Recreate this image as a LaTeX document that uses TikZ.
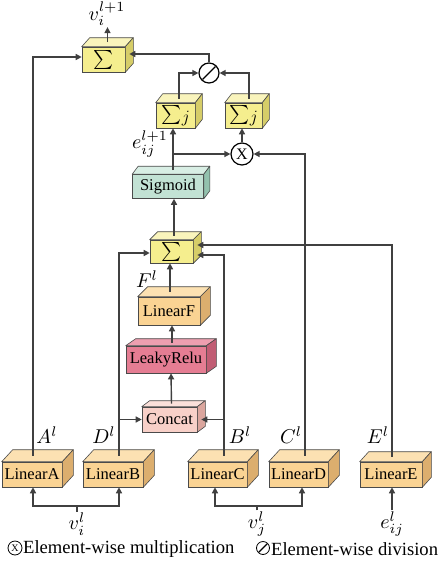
\documentclass[tikz,border=0pt]{standalone}
\usepackage{fontspec}
\setmainfont{Liberation Serif}
\usetikzlibrary{calc,arrows.meta}
\definecolor{yF}{HTML}{F5EE8E}\definecolor{yT}{HTML}{F9F4BC}\definecolor{yS}{HTML}{D6CD68}
\definecolor{oF}{HTML}{FAD393}\definecolor{oT}{HTML}{FCE1B2}\definecolor{oS}{HTML}{DCAE6E}
\definecolor{tF}{HTML}{C2E2D4}\definecolor{tT}{HTML}{D8EEE4}\definecolor{tS}{HTML}{93C2AE}
\definecolor{pF}{HTML}{E57D93}\definecolor{pT}{HTML}{EE9FB0}\definecolor{pS}{HTML}{C15D74}
\definecolor{cF}{HTML}{F8D0C8}\definecolor{cT}{HTML}{FBE0DA}\definecolor{cS}{HTML}{DBA69E}
\definecolor{edge}{HTML}{4A4A4A}\definecolor{wire}{HTML}{404040}
\newcommand{\cubefaces}[5]{%
  \filldraw[facedraw, fill=#4] (#1.north west) -- ++(#2,#3) -- ($(#1.north east)+(#2,#3)$) -- (#1.north east) -- cycle;
  \filldraw[facedraw, fill=#5] (#1.north east) -- ++(#2,#3) -- ($(#1.south east)+(#2,#3)$) -- (#1.south east) -- cycle;
}
\newcommand{\bigsum}{\scalebox{1.9}{$\sum$}}
\newcommand{\bigsumj}{\scalebox{1.9}{$\sum$}\hspace{0.5pt}\raisebox{1pt}{$j$}}
\newcommand{\biglab}[1]{\scalebox{2.0}{$#1$}}
\tikzset{
  facedraw/.style={draw=edge, line width=0.6pt, line join=round},
  box/.style={draw=edge, line width=0.6pt, inner sep=0pt, font=\fontsize{16.5}{18}\selectfont},
  sumbox/.style={box, fill=yF},
  linbox/.style={box, fill=oF, minimum height=25pt},
  arr/.style={draw=wire, line width=1.4pt, -{Triangle[length=6pt,width=6pt]}},
  wireline/.style={draw=wire, line width=1.4pt},
  lab/.style={inner sep=0pt},
  opcirc/.style={circle, draw=black, line width=1.2pt, fill=white, inner sep=0pt},
  legtext/.style={inner sep=0pt, anchor=west, font=\fontsize{18.6}{20}\selectfont},
  slash/.style={path picture={\draw[line width=1.2pt] ($(path picture bounding box.south west)!0.18!(path picture bounding box.north east)$) -- ($(path picture bounding box.south west)!0.82!(path picture bounding box.north east)$);}}
}
\begin{document}
\begin{tikzpicture}[x=1pt,y=-1pt]
\useasboundingbox[fill=white] (0,0) rectangle (444,566);
% boxes
\node[sumbox, minimum width=43pt, minimum height=25pt] (sumTop) at (103.5,59.5) {\bigsum};
\cubefaces{sumTop}{8}{-9}{yT}{yS}
\node[sumbox, minimum width=39pt, minimum height=25pt] (sumjL) at (175.5,115.5) {\bigsumj};
\cubefaces{sumjL}{7}{-9}{yT}{yS}
\node[sumbox, minimum width=37pt, minimum height=25pt] (sumjR) at (243.5,115.5) {\bigsumj};
\cubefaces{sumjR}{7}{-9}{yT}{yS}
\node[box, fill=tF, minimum width=71pt, minimum height=24pt] (sigmoid) at (168,186.5) {Sigmoid};
\cubefaces{sigmoid}{6}{-8}{tT}{tS}
\node[sumbox, minimum width=43pt, minimum height=23pt] (sumM) at (171.5,251.5) {\bigsum};
\cubefaces{sumM}{8}{-8}{yT}{yS}
\node[box, fill=oF, minimum width=62pt, minimum height=28pt] (linF) at (169,311) {LinearF};
\cubefaces{linF}{10}{-10}{oT}{oS}
\node[box, fill=pF, minimum width=80pt, minimum height=27pt] (leaky) at (166,359.5) {LeakyRelu};
\cubefaces{leaky}{10}{-7}{pT}{pS}
\node[box, fill=cF, minimum width=55pt, minimum height=25pt] (concat) at (169.5,419.5) {Concat};
\cubefaces{concat}{8}{-6}{cT}{cS}
\node[linbox, minimum width=60pt] (linA) at (32,474.5) {LinearA};
\cubefaces{linA}{11}{-12}{oT}{oS}
\node[linbox, minimum width=60pt] (linB) at (113,474.5) {LinearB};
\cubefaces{linB}{11}{-12}{oT}{oS}
\node[linbox, minimum width=59pt] (linC) at (217.5,474.5) {LinearC};
\cubefaces{linC}{11}{-12}{oT}{oS}
\node[linbox, minimum width=59pt] (linD) at (298.5,474.5) {LinearD};
\cubefaces{linD}{11}{-12}{oT}{oS}
\node[linbox, minimum width=62pt] (linE) at (391,474.5) {LinearE};
\cubefaces{linE}{9}{-10}{oT}{oS}
% operators
\node[opcirc, minimum size=20pt, slash] (circDiv) at (209,73) {};
\node[opcirc, minimum size=22pt, font=\fontsize{16}{16}\selectfont] (circMul) at (242,154) {X};
% labels
\node[lab] (vout) at (107,14) {\biglab{v_i^{l+1}}};
\node[lab] (eout) at (150,144) {\biglab{e_{ij}^{l+1}}};
\node[lab] (Fl) at (147,279) {\biglab{F^l}};
\node[lab] (Al) at (47,435) {\biglab{A^l}};
\node[lab] (Dl) at (104,435) {\biglab{D^l}};
\node[lab] (Bl) at (240,435) {\biglab{B^l}};
\node[lab] (Cl) at (291,435) {\biglab{C^l}};
\node[lab] (El) at (378,435) {\biglab{E^l}};
\node[lab] (vi) at (77,524) {\biglab{v_i^l}};
\node[lab] (vj) at (257,524) {\biglab{v_j^l}};
\node[lab] (eij) at (392,524) {\biglab{e_{ij}^l}};
% junctions
\coordinate (jI) at (77,506);
\coordinate (jJ) at (257,506);
\coordinate (tA) at ($(linA.north)+(1,-6)$);
\coordinate (tB) at ($(linB.north)+(6,-6)$);
\coordinate (tC) at ($(linC.north)+(6.5,-6)$);
\coordinate (tD) at ($(linD.north)+(6.5,-6)$);
\coordinate (tE) at ($(linE.north)+(1,-5)$);
\coordinate (tS) at ($(sigmoid.north)+(5,-4)$);
\coordinate (tTop) at ($(sumTop.north)+(4,-4.5)$);
% inputs
\draw[wireline] ([yshift=1pt]vi.north) -- (jI);
\draw[arr] (jI) -| ($(linA.south)+(1,0)$);
\draw[arr] (jI) -| ($(linB.south)+(6,0)$);
\draw[wireline] ([yshift=1pt]vj.north) -- (jJ);
\draw[arr] (jJ) -| ($(linC.south)+(-2.5,0)$);
\draw[arr] (jJ) -| ($(linD.south)+(3.5,0)$);
\draw[arr] ([yshift=1pt]eij.north) -- (eij.north |- linE.south);
% outputs of linear layers
\draw[arr] (tA) |- ($(sumTop.west)+(0,-2.5)$);
\draw[arr] (tB) |- ($(sumM.west)+(0,1.5)$);
\draw[arr] (tB |- concat.west) -- (concat.west);
\draw[arr] (tC) |- ($(sumM.east)+(4,3.5)$);
\draw[arr] (tC |- concat.east) -- ($(concat.east)+(4,0)$);
\draw[arr] (tE) |- ($(sumM.east)+(4,-6.5)$);
\draw[arr] (tD) |- (circMul.east);
% middle chain
\draw[arr] ($(concat.north)+(2,-3)$) -- ($(leaky.south)+(5,0)$);
\draw[arr] ($(leaky.north)+(6,-3)$) -- ($(linF.south)+(3,0)$);
\draw[arr] ($(linF.north)+(1,-5)$) -- ($(sumM.south)+(-1.5,0)$);
\draw[arr] ($(sumM.north)+(2.5,-4)$) -- ($(sigmoid.south)+(6,0)$);
\draw[arr] (tS) -- ($(sumjL.south)+(-2.5,0)$);
\draw[arr] (tS |- circMul.west) -- (circMul.west);
\draw[arr] (circMul.north) -- (circMul.north |- sumjR.south);
\draw[arr] ($(sumjL.north)+(3.5,-4)$) |- (circDiv.west);
\draw[arr] ($(sumjR.north)+(5.5,-4)$) |- (circDiv.east);
\draw[arr] (circDiv.north) |- ($(sumTop.east)+(4,-5.5)$);
\draw[arr] (tTop) -- ([yshift=-1pt]tTop |- vout.south);
% legend
\node[opcirc, line width=0.8pt, minimum size=14pt, font=\fontsize{10}{10}\selectfont] (legMul) at (15,548) {X};
\node[legtext] (legMulT) at (23,549) {Element-wise multiplication};
\node[opcirc, line width=0.8pt, minimum size=13pt, slash] (legDiv) at (263,548) {};
\node[legtext] (legDivT) at (271,549) {Element-wise division};
\end{tikzpicture}
\end{document}
